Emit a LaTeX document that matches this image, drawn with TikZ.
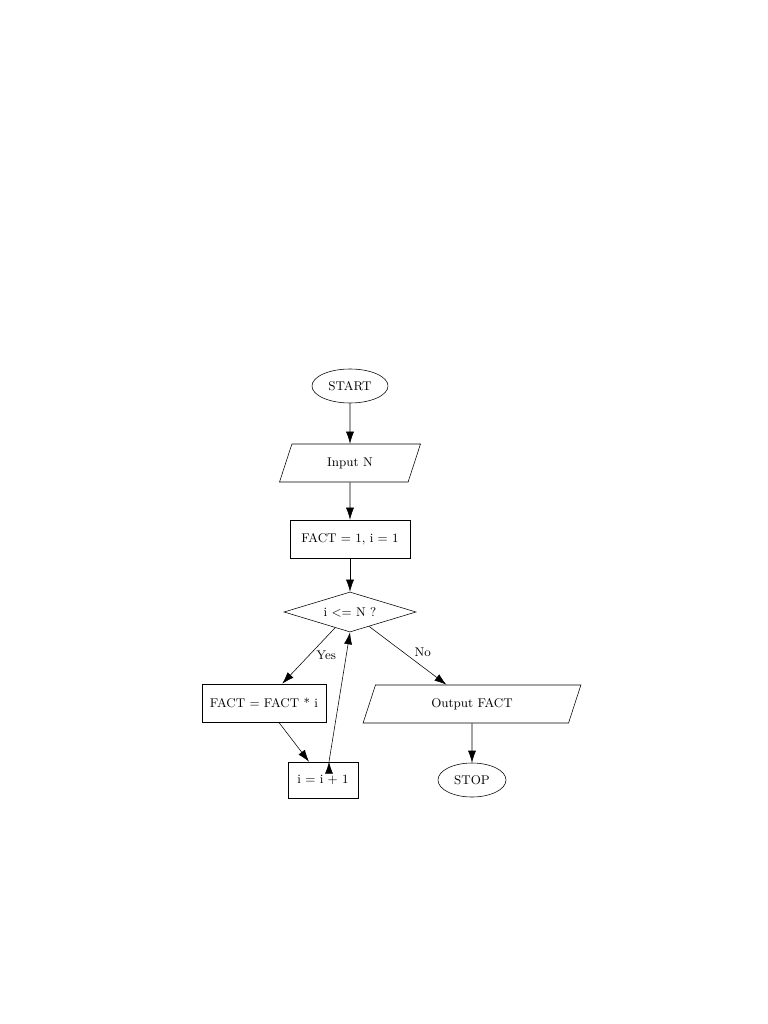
\documentclass[tikz,border=0pt]{standalone}
\usetikzlibrary{shapes.geometric,arrows.meta}
\begin{document}
\begin{tikzpicture}[x=0.025cm,y=-0.025cm,
  base/.style={draw,thin,font=\small,inner sep=2pt},
  term/.style={base,ellipse,minimum height=0.85cm},
  io/.style={base,trapezium,trapezium left angle=72,trapezium right angle=108,minimum height=0.95cm},
  proc/.style={base,rectangle,minimum height=0.95cm},
  dec/.style={base,diamond,aspect=3.3,inner sep=1pt},
  arr/.style={-{Latex[length=3mm,width=2mm]},thin},
  lab/.style={font=\small}]
\useasboundingbox (0,0) rectangle (768,1024);
\node[term,minimum width=1.9cm] (start) at (350,386) {START};
\node[io,minimum width=3.1cm] (in) at (350,463) {Input N};
\node[proc,minimum width=3cm] (init) at (350,539) {FACT = 1, i = 1};
\node[dec,minimum width=3.3cm,minimum height=1cm] (d) at (350,612) {i <= N ?};
\node[proc,minimum width=3.1cm] (mul) at (264,703) {FACT = FACT * i};
\node[proc,minimum width=1.75cm,minimum height=0.9cm] (inc) at (323,780) {i = i + 1};
\node[io,minimum width=4.75cm] (out) at (472,704) {Output FACT};
\node[term,minimum width=1.7cm] (stop) at (472,780) {STOP};
\draw[arr] (start) -- (in);
\draw[arr] (in) -- (init);
\draw[arr] (init) -- (d);
\draw[arr] (d) -- node[lab,right=2pt,pos=0.5] {Yes} (mul);
\draw[arr] (d) -- node[lab,right=4pt,pos=0.45] {No} (out);
\draw[arr] (mul) -- (inc);
\draw[arr] (inc.north) ++(6,0) coordinate (incs) ;
\draw[arr] (incs) -- (d.south);
\draw[arr] (out) -- (stop);
\end{tikzpicture}
\end{document}
